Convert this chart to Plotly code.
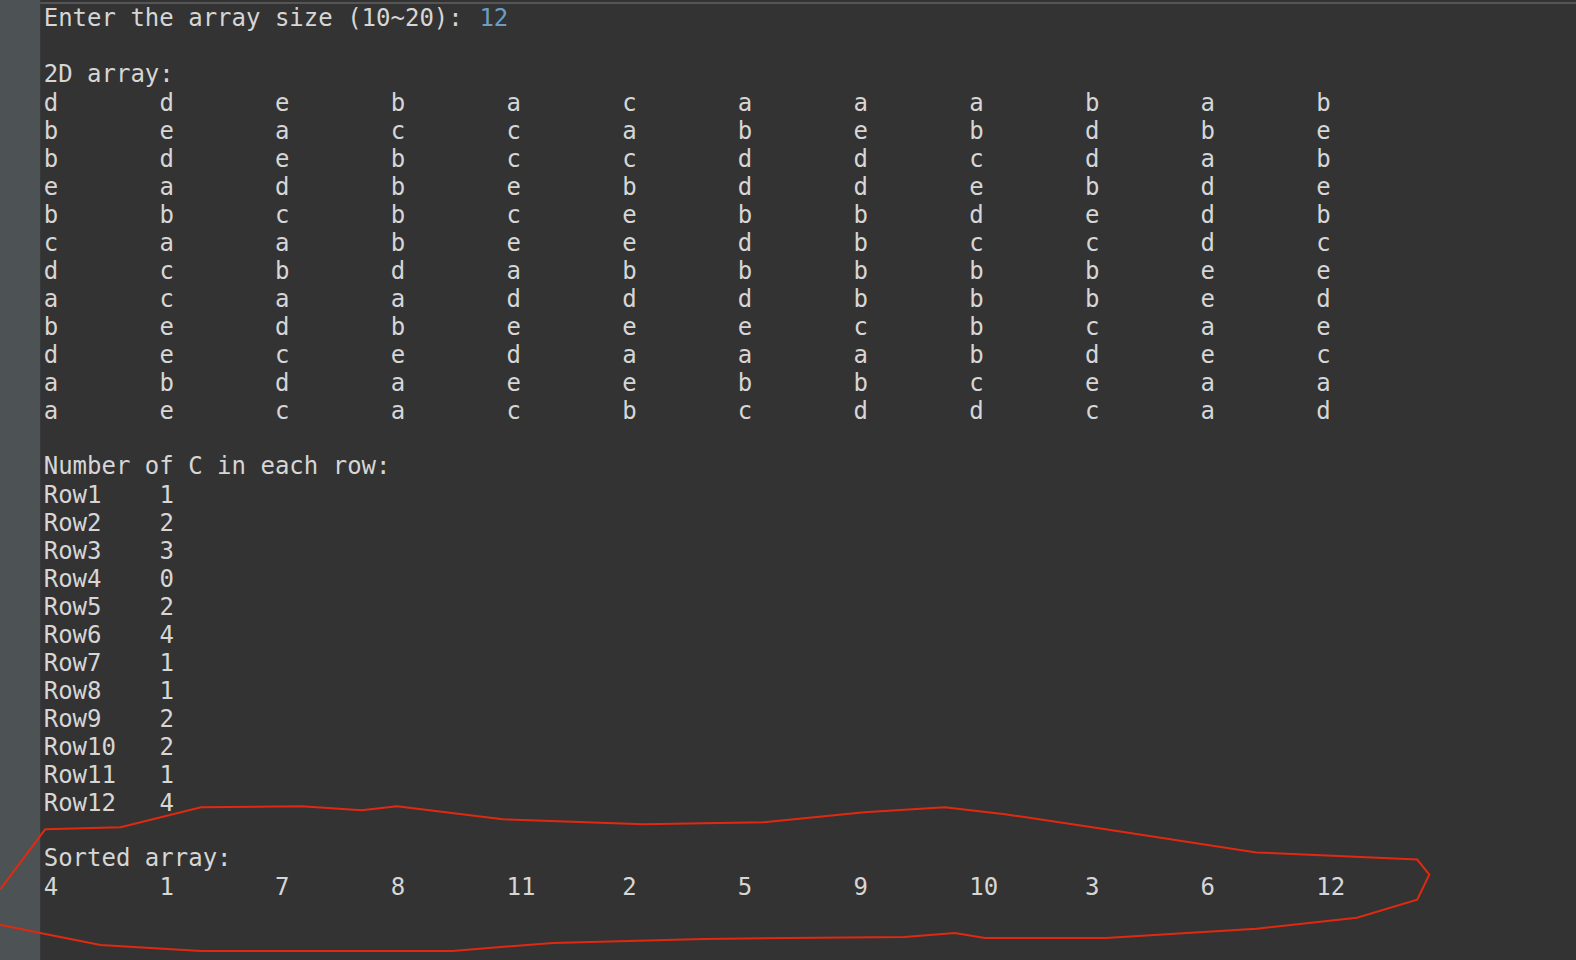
import plotly.graph_objects as go

size_prompt = "Enter the array size (10~20): "
size_value = "12"
grid = [
    "d d e b a c a a a b a b",
    "b e a c c a b e b d b e",
    "b d e b c c d d c d a b",
    "e a d b e b d d e b d e",
    "b b c b c e b b d e d b",
    "c a a b e e d b c c d c",
    "d c b d a b b b b b e e",
    "a c a a d d d b b b e d",
    "b e d b e e e c b c a e",
    "d e c e d a a a b d e c",
    "a b d a e e b b c e a a",
    "a e c a c b c d d c a d",
]
row_labels = [f"Row{i}" for i in range(1, 13)]
c_counts = [1, 2, 3, 0, 2, 4, 1, 1, 2, 2, 1, 4]
sorted_rows = [4, 1, 7, 8, 11, 2, 5, 9, 10, 3, 6, 12]

FG = "#D6D6D6"
FONT = "DejaVu Sans Mono"
FS = 24
SX = 1576 / 1568
SY = 960 / 955
X0 = 43.5
COLW = 115.1
LH = 27.9

fig = go.Figure()

def txt(xs, ys, ts, color=FG):
    fig.add_trace(go.Scatter(x=[x * SX for x in xs], y=[y * SY + 1 for y in ys], text=ts,
                             mode="text", textposition="middle right",
                             textfont=dict(family=FONT, size=FS, color=color),
                             hoverinfo="skip", showlegend=False))

txt([X0], [19], [size_prompt])
txt([X0 + 14.45 * len(size_prompt)], [19], [size_value], "#6E9DC4")
txt([X0], [75], ["2D array:"])
xs, ys, ts = [], [], []
for r, row in enumerate(grid):
    for c, ch in enumerate(row.split()):
        xs.append(X0 + COLW * c); ys.append(103 + LH * r); ts.append(ch)
txt(xs, ys, ts)
txt([X0], [465], ["Number of C in each row:"])
txt([X0] * 12, [493 + LH * i for i in range(12)], row_labels)
txt([X0 + COLW] * 12, [493 + LH * i for i in range(12)], [str(v) for v in c_counts])
txt([X0], [855], ["Sorted array:"])
txt([X0 + COLW * i for i in range(12)], [883] * 12, [str(v) for v in sorted_rows])

pts = [(0,885),(45,825),(120,823),(200,803),(300,802),(360,806),(395,802),(500,815),(640,820),
       (760,818),(860,808),(940,803),(1000,810),(1100,825),(1250,848),(1410,855),(1422,870),
       (1410,895),(1350,913),(1250,924),(1100,933),(980,933),(950,928),(900,932),(700,934),
       (550,938),(450,946),(200,946),(100,940),(40,928),(0,920)]
path = "M " + " L ".join(f"{x*SX:.1f},{y*SY:.1f}" for x, y in pts)

fig.update_layout(
    width=1576, height=960, margin=dict(l=0, r=0, t=0, b=0),
    paper_bgcolor="#333333", plot_bgcolor="#333333",
    xaxis=dict(range=[0, 1576], visible=False, fixedrange=True),
    yaxis=dict(range=[960, 0], visible=False, fixedrange=True),
    shapes=[
        dict(type="rect", x0=0, x1=40 * SX, y0=0, y1=960, fillcolor="#4D5254", line_width=0, layer="below"),
        dict(type="line", x0=40 * SX, x1=1576, y0=3, y1=3, line=dict(color="#555555", width=2)),
        dict(type="path", path=path, line=dict(color="#E02A10", width=2), layer="above"),
    ],
)
fig.write_html("out.html", config={"displayModeBar": False})
with open("out.html", encoding="utf-8") as f:
    html = f.read()
html = html.replace("<body>", '<body style="margin:0;background:#333333;overflow:hidden">', 1)
with open("out.html", "w", encoding="utf-8") as f:
    f.write(html)
